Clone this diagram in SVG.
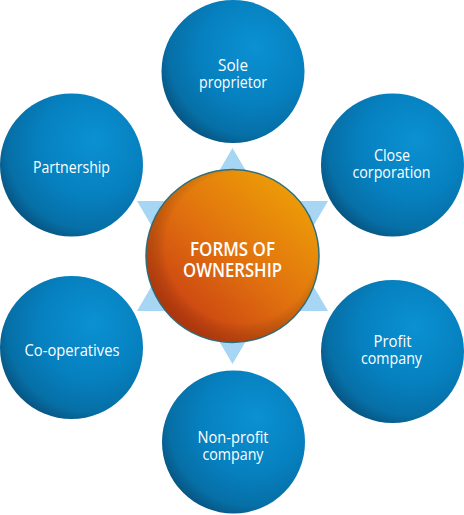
<svg xmlns="http://www.w3.org/2000/svg" width="464" height="515" viewBox="0 0 464 515">
<defs>
<radialGradient id="blue" cx="0.62" cy="0.38" r="0.68" fx="0.66" fy="0.32">
<stop offset="0" stop-color="#0b91d2"/>
<stop offset="0.55" stop-color="#0680bf"/>
<stop offset="0.85" stop-color="#066fa6"/>
<stop offset="1" stop-color="#07527e"/>
</radialGradient>
<linearGradient id="orange" x1="0.85" y1="0.15" x2="0.2" y2="0.9">
<stop offset="0" stop-color="#ec9a08"/>
<stop offset="0.5" stop-color="#e0700f"/>
<stop offset="1" stop-color="#c83e12"/>
</linearGradient>
<radialGradient id="oshade" cx="0.55" cy="0.45" r="0.55">
<stop offset="0.8" stop-color="#000" stop-opacity="0"/>
<stop offset="1" stop-color="#5a1a00" stop-opacity="0.25"/>
</radialGradient>
</defs>
<style>
.node circle{fill:url(#blue);}
.lbl{font-family:"Open Sans","Noto Sans","Liberation Sans",sans-serif;font-size:16px;fill:#ffffff;text-anchor:middle;}
.ctr{font-family:"Open Sans","Noto Sans","Liberation Sans",sans-serif;font-size:20px;font-weight:600;fill:#ffffff;text-anchor:middle;}
.star{fill:#a6d6f3;}
</style>
<g id="connectors">
<polygon class="star" points="232.5,148 328,311 137,311"/>
<polygon class="star" points="232.5,364 137,201 328,201"/>
</g>
<g id="center">
<circle cx="232.5" cy="256" r="86.5" fill="url(#orange)" stroke="#2f6f7c" stroke-width="1.5"/>
<circle cx="232.5" cy="256" r="86" fill="url(#oshade)"/>
<text class="ctr" x="232.5" y="256" textLength="85" lengthAdjust="spacingAndGlyphs">FORMS OF</text>
<text class="ctr" x="232.5" y="277" textLength="99" lengthAdjust="spacingAndGlyphs">OWNERSHIP</text>
</g>
<g id="sole" class="node">
<circle cx="233" cy="71.5" r="71.5"/>
<text class="lbl" x="233" y="71" textLength="30" lengthAdjust="spacingAndGlyphs">Sole</text>
<text class="lbl" x="233" y="87.5" textLength="68" lengthAdjust="spacingAndGlyphs">proprietor</text>
</g>
<g id="partnership" class="node">
<circle cx="71.5" cy="165" r="71.5"/>
<text class="lbl" x="71.5" y="173" textLength="77" lengthAdjust="spacingAndGlyphs">Partnership</text>
</g>
<g id="close" class="node">
<circle cx="392.5" cy="165" r="71.5"/>
<text class="lbl" x="392" y="161" textLength="36" lengthAdjust="spacingAndGlyphs">Close</text>
<text class="lbl" x="391.5" y="177.5" textLength="78" lengthAdjust="spacingAndGlyphs">corporation</text>
</g>
<g id="cooperatives" class="node">
<circle cx="71.5" cy="347.5" r="71.5"/>
<text class="lbl" x="72" y="356" textLength="95" lengthAdjust="spacingAndGlyphs">Co-operatives</text>
</g>
<g id="profit" class="node">
<circle cx="392.5" cy="351.5" r="71.5"/>
<text class="lbl" x="392.5" y="347" textLength="38" lengthAdjust="spacingAndGlyphs">Profit</text>
<text class="lbl" x="391.5" y="363.5" textLength="61" lengthAdjust="spacingAndGlyphs">company</text>
</g>
<g id="nonprofit" class="node">
<circle cx="233.5" cy="442" r="71.5"/>
<text class="lbl" x="233" y="443" textLength="71" lengthAdjust="spacingAndGlyphs">Non-profit</text>
<text class="lbl" x="233" y="460" textLength="61" lengthAdjust="spacingAndGlyphs">company</text>
</g>
</svg>
